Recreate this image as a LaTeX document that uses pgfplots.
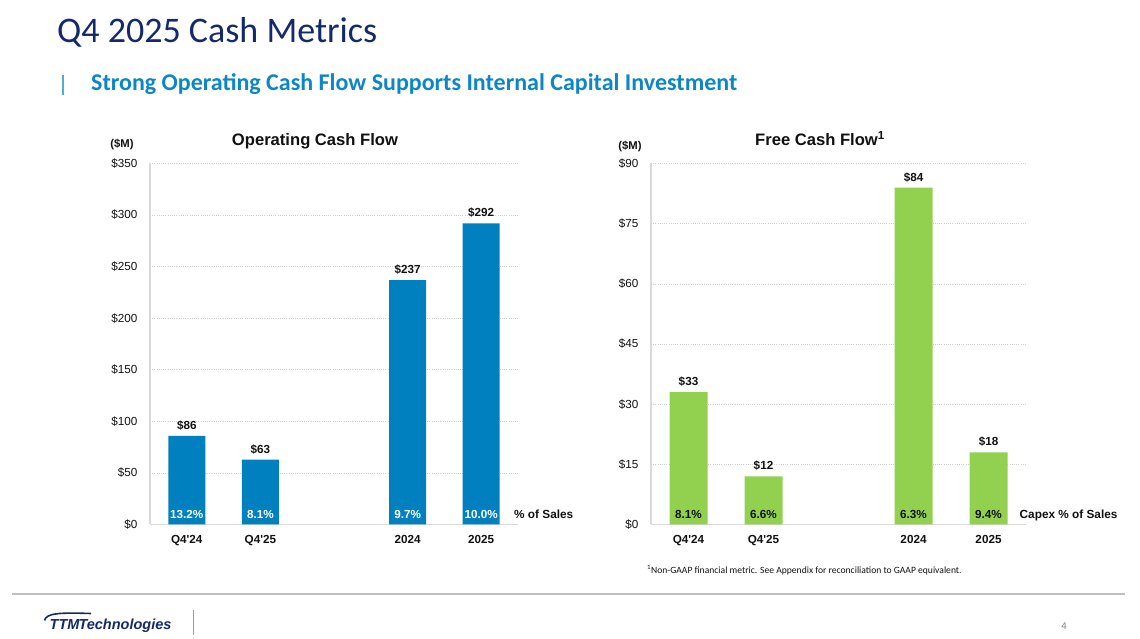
\documentclass[border=0pt]{standalone}
\usepackage{fontspec}
\setmainfont{Liberation Sans}
\newfontfamily\calibri{Carlito}
\usepackage{pgfplots}
\pgfplotsset{compat=1.18}
\definecolor{navy}{HTML}{13296B}
\definecolor{subblue}{HTML}{0C86C6}
\definecolor{barblue}{HTML}{0080BF}
\definecolor{bargreen}{HTML}{92D050}
\definecolor{axgray}{HTML}{D9D9D9}
\definecolor{gridgray}{HTML}{D0D0D0}
\definecolor{txt}{HTML}{111111}

\pgfplotsset{
 cash/.style={
  scale only axis, anchor=south west, height=361pt,
  xmin=-0.5, xmax=4.5, ymin=0,
  /pgf/number format/assume math mode=true,
  axis x line*=bottom, axis y line*=left,
  axis line style={-, draw=axgray, line width=1.3pt},
  ymajorgrids, grid style={dash pattern=on 1pt off 1.2pt, draw=gridgray, line width=0.6pt},
  major tick length=0pt,
  xtick={0,1,3,4},
  xticklabels={Q4\textquotesingle 24, Q4\textquotesingle 25, 2024, 2025},
  xticklabel style={font=\bfseries\fontsize{11.7}{14}\selectfont, text=txt, yshift=-7pt},
  yticklabel style={font=\fontsize{11.7}{14}\selectfont, text=txt, xshift=-9pt},
  clip=false,
 },
 vallab/.style={nodes near coords={\$\pgfmathprintnumber{\pgfplotspointmeta}},
   nodes near coords style={font=\bfseries\fontsize{11.7}{14}\selectfont, text=txt, yshift=2pt}},
 pctlab/.style={draw=none, mark=none, nodes near coords, point meta=explicit symbolic,
   nodes near coords style={anchor=center, font=\bfseries\fontsize{11.7}{14}\selectfont, text=#1}},
}

\begin{document}
\begin{tikzpicture}[x=1pt,y=1pt]
\path[use as bounding box] (0,0) rectangle (1140,639);

% header
\node[anchor=base west, inner sep=0, text=navy, font=\calibri\fontsize{36}{42}\selectfont] at (57,639-43) {Q4 2025 Cash Metrics};
\draw[subblue!70, line width=1.3pt] (63,639-75) -- (63,639-95);
\node[anchor=base west, inner sep=0, text=subblue, font=\calibri\bfseries\fontsize{24}{28}\selectfont] at (91,639-91) {Strong Operating Cash Flow Supports Internal Capital Investment};

% left chart
\begin{axis}[cash, at={(150pt,114.5pt)}, width=368pt, ymax=350,
  ytick={0,50,100,150,200,250,300,350},
  yticklabels={\$0,\$50,\$100,\$150,\$200,\$250,\$300,\$350}]
\addplot[ybar, bar width=37pt, fill=barblue, draw=none, vallab]
  coordinates {(0,86) (1,63) (3,237) (4,292)};
\addplot[pctlab=white]
  coordinates {(0,9.7)[13.2\%] (1,9.7)[8.1\%] (3,9.7)[9.7\%] (4,9.7)[10.0\%]};
\end{axis}
\node[anchor=base, font=\bfseries\fontsize{16.6}{20}\selectfont, text=txt] at (315,639-146) {Operating Cash Flow};
\node[font=\bfseries\fontsize{11.3}{13}\selectfont, text=txt] at (122,639-144.5) {(\$M)};
\node[anchor=west, inner sep=0, font=\bfseries\fontsize{11.8}{14}\selectfont, text=txt] at (514,639-514.5) {\% of Sales};

% right chart
\begin{axis}[cash, at={(651pt,114.5pt)}, width=375pt, ymax=90,
  ytick={0,15,30,45,60,75,90},
  yticklabels={\$0,\$15,\$30,\$45,\$60,\$75,\$90}]
\addplot[ybar, bar width=38pt, fill=bargreen, draw=none, vallab]
  coordinates {(0,33) (1,12) (3,84) (4,18)};
\addplot[pctlab=txt]
  coordinates {(0,2.5)[8.1\%] (1,2.5)[6.6\%] (3,2.5)[6.3\%] (4,2.5)[9.4\%]};
\end{axis}
\node[anchor=base, font=\bfseries\fontsize{16.6}{20}\selectfont, text=txt] at (820,639-146) {Free Cash Flow\textsuperscript{1}};
\node[font=\bfseries\fontsize{11.3}{13}\selectfont, text=txt] at (630,639-146) {(\$M)};
\node[anchor=west, inner sep=0, font=\bfseries\fontsize{11.8}{14}\selectfont, text=txt] at (1019.5,639-515.5) {Capex \% of Sales};

% footnote
\node[anchor=base west, inner sep=0, font=\calibri\fontsize{9.6}{11}\selectfont, text=txt] at (647,639-573.5) {\textsuperscript{1}Non-GAAP financial metric. See Appendix for reconciliation to GAAP equivalent.};

% footer
\draw[black!25, line width=2.5pt] (12,639-594) -- (1125,639-594);
\draw[black!40, line width=0.8pt] (193,639-610) -- (193,639-635);
\draw[navy, line width=1.6pt] (44.5,639-620.5) .. controls (46,639-613) and (60,639-612.5) .. (91,639-613.5);
\node[anchor=base west, inner sep=0, text=navy, font=\bfseries\itshape\fontsize{14.5}{16}\selectfont] at (50,639-630) {\kern-0.5pt TTM\kern-1ptTechnologies};
\node[text=black!50, font=\calibri\fontsize{10.5}{12}\selectfont] at (1064,639-626) {4};
\end{tikzpicture}
\end{document}
